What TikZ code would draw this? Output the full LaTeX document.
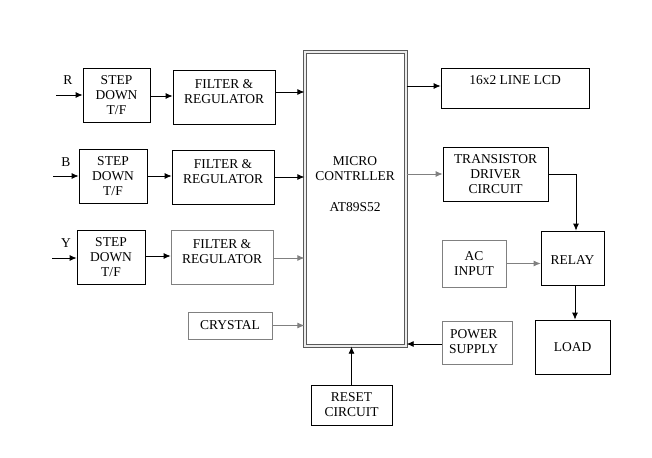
\documentclass[tikz,border=0pt]{standalone}
\usepackage{fontspec}
\setmainfont{Liberation Serif}
\usetikzlibrary{arrows.meta}
\begin{document}
\begin{tikzpicture}[x=1pt,y=-1pt,
 blk/.style={draw,thick,align=center,inner sep=0pt},
 gblk/.style={blk,draw=gray},
 tx/.style={font=\fontsize{13.5}{15}\selectfont,align=center,inner sep=0pt},
 arr/.style={-{Latex[length=7pt,width=6pt]},thick},
 garr/.style={arr,gray}]
\useasboundingbox (0,0) rectangle (652,457);
\newcommand\bx[6]{\node[#1,minimum width=#4-#2,minimum height=#5-#3] (#6) at ({(#2+#4)/2},{(#3+#5)/2}) {};}
\bx{blk}{83}{68}{150}{122}{s1}
\bx{blk}{79}{149}{147}{203}{s2}
\bx{blk}{77}{230}{145}{284}{s3}
\bx{blk}{173}{70}{275}{124}{f1}
\bx{blk}{172}{150}{274}{204}{f2}
\bx{gblk}{171}{230}{273}{284}{f3}
\bx{blk}{441}{68}{589}{108}{lcd}
\bx{blk}{443}{147}{548}{201}{tr}
\bx{gblk}{442}{240}{506}{287}{ac}
\bx{blk}{541}{231}{604}{285}{rel}
\bx{gblk}{442}{321}{512}{364}{ps}
\bx{blk}{535}{320}{610}{374}{load}
\bx{gblk}{188}{312}{272}{339}{cry}
\bx{blk}{311}{385}{392}{425}{rst}
\node[draw=gray!70!black,double=white!85!gray,double distance=1.2pt,line width=1.3pt,minimum width=101,minimum height=294,inner sep=0pt] (mcu) at (355.5,199) {};
\foreach \n in {s1,s2,s3}{\node[tx] at (\n) {STEP\\DOWN\\T/F};}
\foreach \n in {f1,f2,f3}{\node[tx] at ([yshift=5]\n) {FILTER \&\\REGULATOR};}
\node[tx] at ([yshift=8]lcd) {16x2 LINE LCD};
\node[tx] at (tr) {TRANSISTOR\\DRIVER\\CIRCUIT};
\node[tx] at (ac) {AC\\INPUT};
\node[tx] at ([yshift=-2]rel) {RELAY};
\node[tx,anchor=west] at (449,342) {POWER\\SUPPLY};
\node[tx] at (load) {LOAD};
\node[tx] at (cry) {CRYSTAL};
\node[tx] at (rst) {RESET\\CIRCUIT};
\node[tx] at (355,184) {MICRO\\CONTRLLER\\[16pt]AT89S52};
\node[tx] (lr) at (68,80) {R};
\node[tx] (lb) at (66,162) {B};
\node[tx] (ly) at (66,243) {Y};
\coordinate (i1) at (56,95); \coordinate (i2) at (53,176); \coordinate (i3) at (52,258);
\draw[arr] (i1) -- (s1.west|-i1);
\draw[arr] (i2) -- (s2.west|-i2);
\draw[arr] (i3) -- (s3.west|-i3);
\draw[arr] (s1.east|-0,96) -- (f1.west|-0,96);
\draw[arr] (s2.east|-0,176) -- (f2.west|-0,176);
\draw[arr] (s3.east|-0,256) -- (f3.west|-0,256);
\draw[arr] (f1.east|-0,92) -- (mcu.west|-0,92);
\draw[arr] (f2.east|-0,177) -- (mcu.west|-0,177);
\draw[garr] (f3.east|-0,258) -- (mcu.west|-0,258);
\draw[garr] (cry) -- (mcu.west|-cry);
\draw[arr] (rst) -- (mcu.south-|rst);
\draw[arr] (mcu.east|-0,86) -- (lcd.west|-0,86);
\draw[garr] (mcu.east|-0,174) -- (tr.west|-0,174);
\draw[arr] (tr.east|-0,174) -| (rel.north-|576,0);
\draw[garr] (ac) -- (rel.west|-ac);
\draw[arr] (rel.south-|575,0) -- (load.north-|575,0);
\draw[arr] (ps.west|-0,344) -- (mcu.east|-0,344);
\end{tikzpicture}
\end{document}
